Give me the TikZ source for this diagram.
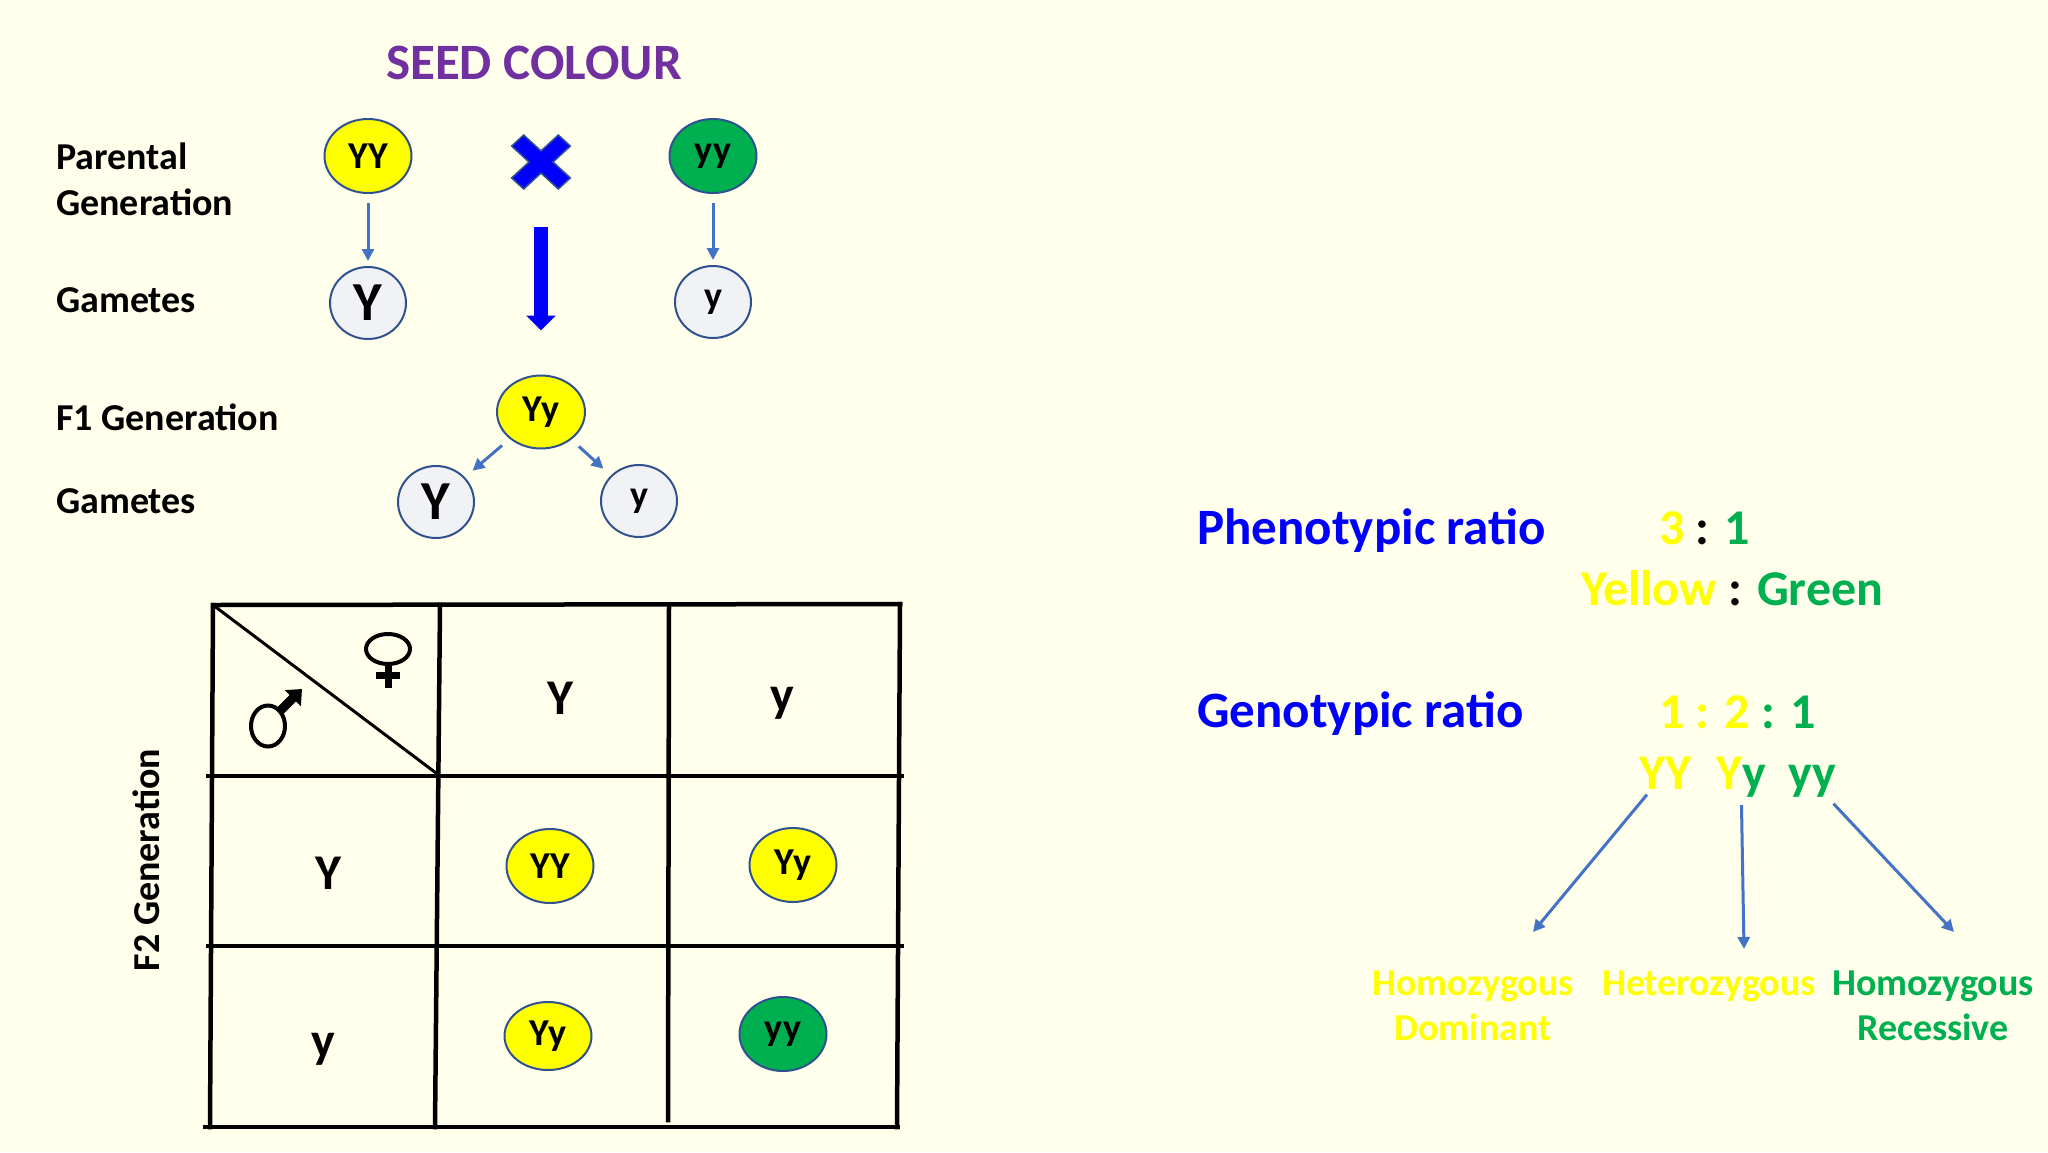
\documentclass[tikz,border=0pt]{standalone}
\usepackage{fontspec}
\setmainfont{Carlito}
\usetikzlibrary{positioning, arrows.meta, shapes.geometric, calc}
\definecolor{latar}{RGB}{255,255,236}
\definecolor{kuning}{RGB}{255,255,0}
\definecolor{hijau}{RGB}{0,176,80}
\definecolor{ungu}{RGB}{112,48,160}
\definecolor{biru}{RGB}{0,0,250}
\definecolor{birugaris}{RGB}{68,114,196}
\definecolor{tepi}{RGB}{47,82,143}
\definecolor{isigamet}{RGB}{240,242,246}

\begin{document}
\begin{tikzpicture}[x=1pt, y=-1pt,
      teks/.style={inner sep=0pt, font=\fontsize{38pt}{46pt}\selectfont\bfseries},
      judul/.style={inner sep=0pt, text=ungu, font=\fontsize{51pt}{60pt}\selectfont\bfseries},
      rasio/.style={inner sep=0pt, font=\fontsize{50pt}{60pt}\selectfont\bfseries},
      jenis/.style={inner sep=0pt, align=center, font=\fontsize{38pt}{45pt}\selectfont\bfseries},
      genotip/.style={ellipse, draw=tepi, line width=2pt, minimum width=87pt, minimum height=74pt, inner sep=0pt, font=\fontsize{38pt}{42pt}\selectfont\bfseries},
      gamet/.style={ellipse, draw=tepi, line width=2pt, fill=isigamet, minimum width=76pt, minimum height=72pt, inner sep=0pt},
      besar/.style={font=\fontsize{55pt}{60pt}\selectfont\bfseries},
      kecil/.style={font=\fontsize{38pt}{44pt}\selectfont\bfseries},
      sel/.style={inner sep=0pt, anchor=base, font=\fontsize{50pt}{60pt}\selectfont\bfseries},
      garis/.style={line width=4.5pt, line cap=rect},
      panah/.style={-{Triangle[length=12pt, width=12pt]}, draw=birugaris, line width=3pt},
      panahtebal/.style={-{Triangle[length=15pt, width=29pt]}, draw=biru, line width=14pt}]

      % latar
      \fill[latar] (0,0) rectangle (2048,1152);
      \useasboundingbox (0,0) rectangle (2048,1152);

      % judul
      \node[judul, anchor=base] (judul) at (534,79) {SEED COLOUR};

      % kiri: keterangan generasi
      \node[teks, align=left, anchor=west] (lblParental) at (56,179) {Parental\\Generation};
      \node[teks, anchor=base west] (lblGamet1) at (56,312) {Gametes};
      \node[teks, anchor=base west] (lblF1) at (56,430) {F1 Generation};
      \node[teks, anchor=base west] (lblGamet2) at (56,513) {Gametes};

      % generasi parental
      \node[genotip, fill=kuning] (pYY) at (368,156) {YY};
      \node[genotip, fill=hijau] (pyy) at (713,156) {yy};
      \coordinate (silang) at (541,162);
      \begin{scope}[shift={(silang)}, yscale=0.92, rotate=45]
        \filldraw[fill=biru, draw=tepi, line width=1.5pt] (8.5,33) -- (8.5,8.5) -- (33,8.5) -- (33,-8.5) -- (8.5,-8.5) -- (8.5,-33)
          -- (-8.5,-33) -- (-8.5,-8.5) -- (-33,-8.5) -- (-33,8.5) -- (-8.5,8.5) -- (-8.5,33) -- cycle;
      \end{scope}

      % gamet parental
      \node[gamet, besar] (gY1) at (368,303) {Y};
      \node[gamet, kecil] (gy1) at (713,302) {y};
      \draw[panah, shorten <=9pt, shorten >=5pt] (pYY) -- (gY1);
      \draw[panah, shorten <=9pt, shorten >=5pt] (pyy) -- (gy1);

      % generasi F1
      \node[genotip, fill=kuning, minimum width=88pt, minimum height=73pt] (f1Yy) at (541,412) {Yy};
      \draw[panahtebal, shorten <=65pt, shorten >=44pt] (silang) -- (f1Yy);

      % gamet F1
      \node[gamet, besar] (gY2) at (436,502) {Y};
      \node[gamet, kecil] (gy2) at (639,501) {y};
      \foreach \g in {gY2, gy2} \draw[panah, shorten <=10pt, shorten >=10pt] (f1Yy) -- (\g);

      % papan punnett
      \foreach \a/\b in {{(213,605)}/{(900,604)}, {(208,776)}/{(902,776)}, {(208,946)}/{(902,946)}, {(205,1127)}/{(898,1127)},
                         {(213,605)}/{(210,1127)}, {(440,605)}/{(435,1127)}, {(669,605)}/{(668,1120)}, {(900,604)}/{(897,1127)}}
        \draw[garis] \a -- \b;
      \draw[line width=3pt] (213,605) -- (440,776);

      % simbol betina dan jantan
      \draw[line width=4pt] (388,649) ellipse [x radius=22, y radius=15];
      \draw[line width=7pt] (388,664) -- (388,688);
      \draw[line width=7pt] (376,675) -- (400,675);
      \draw[line width=4pt] (268,726) ellipse [x radius=17, y radius=20.5];
      \draw[line width=9pt, -{Triangle[length=13pt, width=22pt]}] (279,712) -- (302,689);

      % kepala kolom dan baris
      \node[sel] (kolY) at (560,714) {Y};
      \node[sel] (koly) at (782,711) {y};
      \node[sel] (barisY) at (328,889) {Y};
      \node[sel] (barisy) at (323,1057) {y};

      % isi sel
      \node[genotip, fill=kuning] (sYY) at (550,866) {YY};
      \node[genotip, fill=kuning] (sYy1) at (793,865) {Yy};
      \node[genotip, fill=kuning, minimum height=68pt] (sYy2) at (548,1036) {Yy};
      \node[genotip, fill=hijau] (syy) at (783,1034) {yy};
      \node[teks, rotate=90] (lblF2) at (146,860) {F2 Generation};

      % kanan: rasio fenotip
      \node[rasio, text=biru, anchor=base west, font=\fontsize{51pt}{60pt}\selectfont\bfseries] (lblFeno) at (1197,544) {Phenotypic ratio};
      \node[rasio, anchor=base west] (rasioFeno) at (1659,544) {\textcolor{kuning}{3} : \textcolor{hijau}{1}};
      \node[rasio, anchor=base west] (warnaFeno) at (1581,605) {\textcolor{kuning}{Yellow} : \textcolor{hijau}{Green}};

      % kanan: rasio genotip
      \node[rasio, text=biru, anchor=base west, font=\fontsize{51pt}{60pt}\selectfont\bfseries] (lblGeno) at (1197,727) {Genotypic ratio};
      \node[rasio, anchor=base west] (rasioGeno) at (1659,728) {\textcolor{kuning}{1 : 2} \textcolor{hijau}{: 1}};
      \node[rasio, text=kuning, anchor=base] (genoYY) at (1665,789) {YY};
      \node[rasio, anchor=base] (genoYy) at (1741,789) {\textcolor{kuning}{Y}\textcolor{hijau}{y}};
      \node[rasio, text=hijau, anchor=base] (genoyy) at (1812,789) {yy};

      % jenis genotip
      \node[jenis, text=kuning] (hmzD) at (1473,1006) {Homozygous\\Dominant};
      \node[jenis, text=kuning, anchor=base] (htz) at (1709,995) {Heterozygous};
      \node[jenis, text=hijau] (hmzR) at (1933,1006) {Homozygous\\Recessive};
      \coordinate (ujungD) at (1533,932);
      \coordinate (ujungT) at (1744,949);
      \coordinate (ujungR) at (1954,932);
      \draw[panah, shorten <=7pt] (genoYY) -- (ujungD);
      \draw[panah, shorten <=8pt] (genoYy) -- (ujungT);
      \draw[panah, shorten <=9pt] (genoyy) -- (ujungR);
    \end{tikzpicture}
\end{document}
